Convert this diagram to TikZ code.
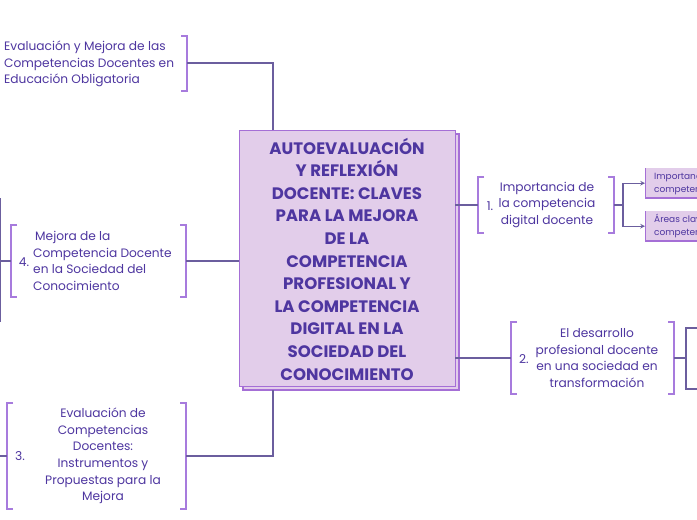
\documentclass[tikz,border=0pt]{standalone}
\usepackage{fontspec}
\setmainfont{Poppins}
\definecolor{txt}{HTML}{4E36A0}
\definecolor{ln}{HTML}{6B5E9E}
\definecolor{br}{HTML}{A77BDD}
\definecolor{fillp}{HTML}{E2CDEA}
\definecolor{bord}{HTML}{A56FD6}
\begin{document}
\begin{tikzpicture}[x=1pt,y=-1pt,
  conn/.style={draw=ln,line width=1.1pt},
  brk/.style={draw=br,line width=2.2pt},
  lbl/.style={text=txt,font=\fontsize{12.2}{16.6}\selectfont,align=center,inner sep=0pt},
  num/.style={text=txt,font=\fontsize{12.2}{14}\selectfont,inner sep=0pt}]
\clip (0,0) rectangle (697,520);
\fill[white] (0,0) rectangle (697,520);
% central box
\draw[bord,line width=1.2pt,fill=fillp] (243,134) rectangle (459,390);
\node[draw=bord,line width=1.2pt,fill=fillp,minimum width=216pt,minimum height=256pt,anchor=north west] (c) at (239,130) {};
\node[text=txt,font=\fontsize{16.6}{22.6}\selectfont\bfseries,align=center] (ct) at (347,259) {AUTOEVALUACIÓN\\Y REFLEXIÓN\\DOCENTE: CLAVES\\PARA LA MEJORA\\DE LA\\COMPETENCIA\\PROFESIONAL Y\\LA COMPETENCIA\\DIGITAL EN LA\\SOCIEDAD DEL\\CONOCIMIENTO};
% top-left node
\node[lbl,align=left,anchor=west] (t0) at (4,64) {Evaluación y Mejora de las\\Competencias Docentes en\\Educación Obligatoria};
\coordinate (t0r) at (187,63);
\draw[brk] (181,36) -- (187,36) -- (187,91) -- (181,91);
\draw[conn] (273,130) -- (273,63) -- (t0r);
% node 4
\node[num] (n4) at (24,262) {4.};
\node[lbl,align=left,anchor=west] (t4) at (33,261) {\,Mejora de la\\Competencia Docente\\en la Sociedad del\\Conocimiento};
\draw[brk] (17,225) -- (11,225) -- (11,297) -- (17,297);
\draw[brk] (180,225) -- (186,225) -- (186,297) -- (180,297);
\coordinate (b4r) at (186,261);
\coordinate (b4l) at (11,261);
\draw[conn] (c.west |- b4r) -- (b4r);
\draw[conn] (b4l) -- (0,261);
\draw[conn] (0,198) -- (0,322);
% node 3
\node[num] (n3) at (20,456) {3.};
\node[lbl] (t3) at (103,456) {Evaluación de\\Competencias\\Docentes:\\Instrumentos y\\Propuestas para la\\Mejora};
\draw[brk] (13,403) -- (7,403) -- (7,509) -- (13,509);
\draw[brk] (180,403) -- (186,403) -- (186,509) -- (180,509);
\coordinate (b3r) at (186,456);
\draw[conn] (273,390) -- (273,456) -- (b3r);
\draw[conn] (7,456) -- (0,456);
% node 1
\node[num] (n1) at (490,206) {1.};
\node[lbl] (t1) at (547,205) {Importancia de\\la competencia\\digital docente};
\draw[brk] (484,177) -- (478,177) -- (478,233) -- (484,233);
\draw[brk] (608,177) -- (614,177) -- (614,233) -- (608,233);
\coordinate (b1l) at (478,205);
\coordinate (b1r) at (614,205);
\draw[conn] (455,205) -- (b1l);
\node[fill=fillp,minimum width=60pt,minimum height=30pt,anchor=north west,inner sep=0pt] (s1) at (645,168) {};
\node[fill=fillp,minimum width=60pt,minimum height=30pt,anchor=north west,inner sep=0pt] (s2) at (645,211) {};
\draw[bord,line width=2pt] (s1.south west) -- (s1.south east);
\draw[bord,line width=2pt] (s2.south west) -- (s2.south east);
\draw[bord,line width=0.8pt] (s1.north west) -- (s1.south west);
\draw[bord,line width=0.8pt] (s2.north west) -- (s2.south west);
\node[text=txt,font=\fontsize{9}{12.5}\selectfont,align=left,anchor=west,inner sep=0pt] at (654,184) {Importancia de la\\competencia digital};
\node[text=txt,font=\fontsize{9}{12.5}\selectfont,align=left,anchor=west,inner sep=0pt] at (654,226) {Áreas clave de la\\competencia digital};
\draw[conn] (b1r) -- (623,205);
\draw[conn,-stealth] (623,205) |- (s1.west);
\draw[conn,-stealth] (623,205) |- (s2.west);
% node 2
\node[num] (n2) at (524,359) {2.};
\node[lbl] (t2) at (597,358) {El desarrollo\\profesional docente\\en una sociedad en\\transformación};
\draw[brk] (517,322) -- (511,322) -- (511,394) -- (517,394);
\draw[brk] (668,322) -- (674,322) -- (674,394) -- (668,394);
\coordinate (b2l) at (511,358);
\coordinate (b2r) at (674,358);
\draw[conn] (455,358) -- (b2l);
\draw[conn] (b2r) -- (686,358);
\draw[conn] (697,328) -- (686,328) -- (686,389) -- (697,389);
\end{tikzpicture}
\end{document}
